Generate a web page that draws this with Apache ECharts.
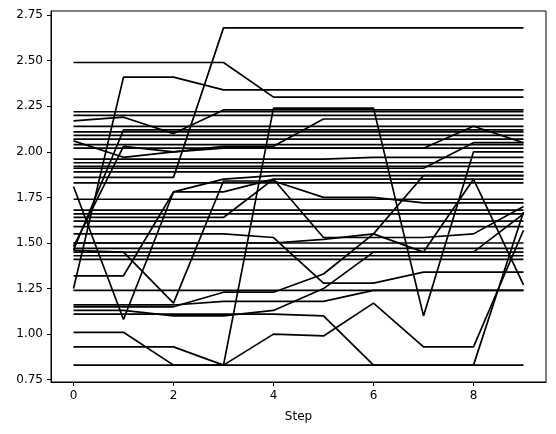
<!DOCTYPE html>
<html>
<head>
<meta charset="utf-8">
<script src="https://cdn.jsdelivr.net/npm/echarts@6/dist/echarts.min.js"></script>
<style>
  html, body { margin: 0; padding: 0; background: #fff; }
  #chart { width: 556px; height: 434px; }
</style>
</head>
<body>
<div id="chart"></div>
<script>
// x positions of every run
const steps = [0, 1, 2, 3, 4, 5, 6, 7, 8, 9];

// tick labels
const xTicks = [0, 2, 4, 6, 8];
const yTicks = [0.75, 1.0, 1.25, 1.5, 1.75, 2.0, 2.25, 2.5, 2.75];

// one row per run (step 0..9)
const runs = [
  [2.49, 2.49, 2.49, 2.49, 2.30, 2.30, 2.30, 2.30, 2.30, 2.30],
  [1.86, 1.86, 1.86, 2.68, 2.68, 2.68, 2.68, 2.68, 2.68, 2.68],
  [1.25, 2.41, 2.41, 2.34, 2.34, 2.34, 2.34, 2.34, 2.34, 2.34],
  [2.17, 2.19, 2.10, 2.23, 2.23, 2.23, 2.23, 2.23, 2.23, 2.23],
  [1.81, 1.08, 1.78, 1.78, 1.85, 1.85, 1.85, 1.85, 1.85, 1.85],
  [1.32, 1.32, 1.78, 1.85, 1.87, 1.87, 1.87, 1.87, 1.87, 1.87],
  [1.46, 1.45, 1.17, 1.84, 1.84, 1.75, 1.75, 1.72, 1.72, 1.72],
  [1.48, 2.03, 2.00, 2.03, 2.03, 2.18, 2.18, 2.18, 2.18, 2.18],
  [1.01, 1.01, 0.83, 0.83, 2.24, 2.24, 2.24, 1.10, 2.00, 2.00],
  [0.93, 0.93, 0.93, 0.83, 1.00, 0.99, 1.17, 0.93, 0.93, 1.57],
  [1.11, 1.11, 1.11, 1.11, 1.11, 1.10, 0.83, 0.83, 0.83, 1.67],
  [1.55, 1.55, 1.55, 1.55, 1.53, 1.28, 1.28, 1.34, 1.34, 1.34],
  [2.06, 1.97, 2.00, 2.02, 2.02, 2.02, 2.02, 2.02, 2.14, 2.05],
  [1.15, 1.15, 1.15, 1.23, 1.23, 1.33, 1.55, 1.87, 1.87, 1.87],
  [1.64, 1.64, 1.64, 1.64, 1.85, 1.53, 1.53, 1.53, 1.55, 1.70],
  [1.50, 1.50, 1.50, 1.50, 1.50, 1.52, 1.55, 1.45, 1.85, 1.27],
  [1.45, 1.45, 1.45, 1.45, 1.45, 1.45, 1.45, 1.45, 1.45, 1.66],
  [1.46, 2.12, 2.12, 2.12, 2.12, 2.12, 2.12, 2.12, 2.12, 2.12],
  [1.16, 1.16, 1.16, 1.18, 1.18, 1.18, 1.24, 1.24, 1.24, 1.24],
  [1.13, 1.13, 1.10, 1.10, 1.13, 1.25, 1.45, 1.45, 1.45, 1.45],
  [1.91, 1.91, 1.91, 1.91, 1.91, 1.91, 1.91, 1.91, 2.05, 2.05],
  [2.22, 2.22, 2.22, 2.22, 2.22, 2.22, 2.22, 2.22, 2.22, 2.22],
  [2.20, 2.20, 2.20, 2.20, 2.20, 2.20, 2.20, 2.20, 2.20, 2.20],
  [2.14, 2.14, 2.14, 2.14, 2.14, 2.14, 2.14, 2.14, 2.14, 2.14],
  [2.11, 2.11, 2.11, 2.11, 2.11, 2.11, 2.11, 2.11, 2.11, 2.11],
  [2.09, 2.09, 2.09, 2.09, 2.09, 2.09, 2.09, 2.09, 2.09, 2.09],
  [2.07, 2.07, 2.07, 2.07, 2.07, 2.07, 2.07, 2.07, 2.07, 2.07],
  [2.04, 2.04, 2.04, 2.04, 2.04, 2.04, 2.04, 2.04, 2.04, 2.04],
  [2.02, 2.02, 2.02, 2.02, 2.02, 2.02, 2.02, 2.02, 2.02, 2.02],
  [1.96, 1.96, 1.96, 1.96, 1.96, 1.96, 1.97, 1.97, 1.97, 1.97],
  [1.94, 1.94, 1.94, 1.94, 1.94, 1.94, 1.94, 1.94, 1.94, 1.94],
  [1.92, 1.92, 1.92, 1.92, 1.92, 1.92, 1.92, 1.92, 1.92, 1.92],
  [1.89, 1.89, 1.89, 1.89, 1.89, 1.89, 1.89, 1.89, 1.89, 1.89],
  [1.83, 1.83, 1.83, 1.83, 1.83, 1.83, 1.83, 1.83, 1.83, 1.83],
  [1.74, 1.74, 1.74, 1.74, 1.74, 1.74, 1.74, 1.74, 1.74, 1.74],
  [1.68, 1.68, 1.68, 1.68, 1.68, 1.68, 1.68, 1.68, 1.68, 1.68],
  [1.66, 1.66, 1.66, 1.66, 1.66, 1.66, 1.66, 1.66, 1.66, 1.66],
  [1.62, 1.62, 1.62, 1.62, 1.62, 1.62, 1.62, 1.62, 1.62, 1.62],
  [1.59, 1.59, 1.59, 1.59, 1.59, 1.59, 1.59, 1.59, 1.59, 1.59],
  [1.50, 1.50, 1.50, 1.50, 1.50, 1.50, 1.50, 1.50, 1.50, 1.50],
  [1.47, 1.47, 1.47, 1.47, 1.47, 1.47, 1.47, 1.47, 1.47, 1.47],
  [1.43, 1.43, 1.43, 1.43, 1.43, 1.43, 1.43, 1.43, 1.43, 1.43],
  [1.41, 1.41, 1.41, 1.41, 1.41, 1.41, 1.41, 1.41, 1.41, 1.41],
  [1.24, 1.24, 1.24, 1.24, 1.24, 1.24, 1.24, 1.24, 1.24, 1.24],
  [0.83, 0.83, 0.83, 0.83, 0.83, 0.83, 0.83, 0.83, 0.83, 0.83]
];

const chart = echarts.init(document.getElementById('chart'), null, {renderer: 'canvas'});

const textStyle = {color: '#000', fontFamily: 'DejaVu Sans', fontSize: 12};

const option = {
  animation: false,
  backgroundColor: '#fff',
  grid: {
    left: 51, right: 10, top: 11, bottom: 52,
    show: true, borderColor: '#000', borderWidth: 1
  },
  xAxis: {
    type: 'value',
    min: -0.45,
    max: 9.45,
    name: 'Step',
    nameLocation: 'middle',
    nameGap: 29,
    nameTextStyle: textStyle,
    axisLine: {show: true, onZero: false, lineStyle: {color: '#000', width: 1}},
    axisTick: {show: true, length: 4, lineStyle: {color: '#000'}, customValues: xTicks},
    axisLabel: Object.assign({margin: 8, customValues: xTicks, formatter: v => String(v)}, textStyle),
    splitLine: {show: false}
  },
  yAxis: {
    type: 'value',
    min: 0.7375,
    max: 2.7725,
    axisLine: {show: true, onZero: false, lineStyle: {color: '#000', width: 1}},
    axisTick: {show: true, length: 4, lineStyle: {color: '#000'}, customValues: yTicks},
    axisLabel: Object.assign({margin: 8, customValues: yTicks, formatter: v => v.toFixed(2)}, textStyle),
    splitLine: {show: false}
  },
  series: runs.map(r => ({
    type: 'line',
    data: steps.map((s, i) => [s, r[i]]),
    showSymbol: false,
    symbol: 'none',
    silent: true,
    lineStyle: {color: '#000', width: 1.7}
  }))
};

chart.setOption(option);
</script>
</body>
</html>
